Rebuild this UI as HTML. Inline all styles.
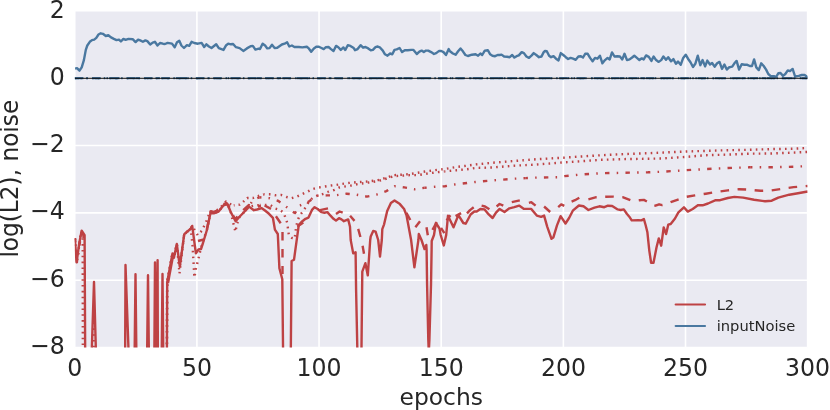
<!DOCTYPE html>
<html><head><meta charset="utf-8"><title>plot</title>
<style>
html,body{margin:0;padding:0;background:#fff;}
svg{display:block;}
text{font-family:"DejaVu Sans","Liberation Sans",sans-serif;fill:#262626;}
</style></head><body>
<svg width="830" height="410" viewBox="0 0 830 410">
<rect x="0" y="0" width="830" height="410" fill="#ffffff"/>
<rect x="74.75" y="10.8" width="732.90" height="336.80" fill="#eaeaf2"/>
<g stroke="#ffffff" stroke-width="1.6"><line x1="74.75" y1="10.8" x2="74.75" y2="347.6"/><line x1="196.90" y1="10.8" x2="196.90" y2="347.6"/><line x1="319.05" y1="10.8" x2="319.05" y2="347.6"/><line x1="441.20" y1="10.8" x2="441.20" y2="347.6"/><line x1="563.35" y1="10.8" x2="563.35" y2="347.6"/><line x1="685.50" y1="10.8" x2="685.50" y2="347.6"/><line x1="807.65" y1="10.8" x2="807.65" y2="347.6"/><line x1="74.75" y1="10.79" x2="807.65" y2="10.79"/><line x1="74.75" y1="78.15" x2="807.65" y2="78.15"/><line x1="74.75" y1="145.51" x2="807.65" y2="145.51"/><line x1="74.75" y1="212.87" x2="807.65" y2="212.87"/><line x1="74.75" y1="280.23" x2="807.65" y2="280.23"/><line x1="74.75" y1="347.59" x2="807.65" y2="347.59"/></g>
<defs><clipPath id="c"><rect x="74.75" y="10.8" width="732.90" height="336.80"/></clipPath></defs>
<g clip-path="url(#c)" fill="none" stroke-linejoin="round">
<g stroke="#be4244" stroke-width="2.4">
<path d="M74.8,238.2 L76.6,262.3 L79.3,243.0 L81.7,230.6 L84.6,235.2 L85.5,420.0 L89.5,420.0 L94.0,282.0 L97.8,420.0 L124.9,420.0 L125.5,265.0 L131.0,420.0 L133.9,420.0 L135.5,274.2 L137.1,420.0 L146.4,420.0 L148.0,275.3 L149.6,420.0 L153.9,420.0 L155.0,262.5 L156.3,420.0 L157.6,260.3 L158.0,420.0 L161.1,420.0 L162.5,273.9 L163.9,420.0 L166.6,420.0 L167.2,282.2 L172.5,253.4 L173.9,257.8 L176.8,243.9 L179.8,266.6 L184.2,234.4 L187.1,231.7 L190.7,228.8 L192.2,225.9 L195.9,253.4 L198.5,249.5 L201.0,249.0 L203.0,243.0 L206.9,230.0 L210.6,212.5 L213.7,213.3 L218.6,211.5 L223.4,205.4 L226.5,204.1 L228.3,206.0 L230.7,212.0 L235.6,221.2 L239.3,217.0 L244.1,212.0 L249.0,206.6 L253.9,210.2 L257.0,209.5 L261.8,208.2 L265.0,210.5 L269.0,213.8 L272.9,217.8 L274.9,229.6 L277.8,234.0 L279.4,268.3 L282.3,279.3 L283.8,420.0 L290.2,420.0 L291.6,261.0 L294.0,259.8 L296.8,239.4 L298.8,224.8 L300.0,223.7 L302.4,221.2 L305.5,218.8 L308.5,217.6 L312.2,209.6 L314.6,207.2 L317.7,209.0 L321.3,212.1 L324.4,212.7 L327.4,212.1 L330.5,215.7 L333.5,218.8 L336.0,220.6 L339.0,218.2 L341.5,219.4 L343.9,221.2 L348.2,219.4 L350.0,226.7 L350.7,240.0 L353.2,253.4 L355.6,252.2 L356.1,290.0 L357.3,347.0 L359.0,450.0 L361.5,347.0 L362.3,271.7 L365.4,263.2 L367.8,275.4 L370.2,240.0 L370.7,236.5 L373.2,231.0 L375.6,231.6 L378.2,240.0 L380.0,256.5 L381.8,240.0 L382.3,229.1 L384.1,224.3 L387.2,210.9 L390.9,202.9 L394.5,200.5 L399.9,204.1 L404.1,209.0 L406.6,215.7 L411.1,240.0 L414.4,267.4 L418.4,240.0 L418.8,234.0 L421.5,240.0 L424.5,249.1 L426.3,244.9 L426.6,250.0 L427.1,285.0 L428.3,340.0 L428.8,352.0 L429.4,340.0 L431.0,285.0 L431.6,250.0 L431.7,241.0 L434.0,235.0 L435.9,223.0 L439.5,228.5 L440.7,235.0 L443.8,245.4 L446.2,235.0 L448.0,215.7 L453.5,227.3 L458.4,215.1 L463.3,223.0 L465.7,223.7 L470.6,214.5 L474.3,211.5 L476.7,211.5 L480.4,209.0 L484.6,209.4 L488.7,214.4 L492.6,218.0 L496.0,212.6 L499.6,208.9 L504.5,212.0 L509.4,208.3 L514.3,207.1 L519.1,205.6 L524.0,208.9 L527.7,208.9 L531.3,208.9 L533.8,212.0 L536.8,215.6 L541.1,216.8 L544.1,215.6 L547.2,226.6 L551.5,238.8 L553.3,237.6 L557.0,225.4 L560.6,216.2 L565.5,223.5 L569.1,218.0 L572.8,210.7 L578.9,205.5 L583.5,206.3 L588.4,210.0 L594.5,207.6 L599.4,206.3 L604.3,207.2 L607.9,205.7 L612.2,206.0 L617.7,209.4 L620.7,210.0 L623.8,209.4 L626.8,213.7 L629.3,216.7 L631.7,220.4 L638.4,220.1 L641.5,220.4 L643.9,219.1 L645.6,225.0 L647.4,232.3 L649.3,250.6 L651.1,262.8 L653.5,262.8 L656.6,247.0 L658.8,238.4 L661.2,245.7 L663.7,227.4 L666.1,234.1 L668.3,224.6 L670.7,224.0 L675.0,218.5 L678.4,212.3 L683.9,207.3 L687.8,211.6 L692.7,209.0 L698.2,205.1 L702.6,205.3 L708.0,203.5 L715.7,200.2 L720.1,200.2 L727.8,198.0 L734.4,196.9 L743.2,197.6 L754.1,199.8 L765.1,201.3 L771.7,200.7 L778.3,197.6 L789.3,194.7 L798.0,193.2 L807.6,191.5"/>
<path d="M81.2,231.5 L83.4,235.5 L83.5,238.0"/><path d="M198.0,241.0 L203.9,239.5"/><path d="M264.6,205.5 L271.0,208.9"/><path d="M275.9,216.2 L280.7,223.2"/><path d="M282.5,232.0 L282.5,240.4"/><path d="M282.5,249.0 L282.5,257.4"/><path d="M282.5,266.0 L282.5,274.0"/><path d="M320.1,210.2 L328.0,208.4"/><path d="M336.0,213.9 L339.6,211.5 L342.7,212.7"/><path d="M350.1,215.7 L354.5,220.9"/><path d="M358.2,228.9 L360.4,237.0"/><path d="M362.6,245.7 L364.0,253.8"/><path d="M406.4,212.7 L410.3,220.0"/><path d="M415.4,227.2 L420.0,221.2"/><path d="M426.5,227.2 L427.8,235.3"/><path d="M432.5,229.8 L436.8,222.1"/><path d="M441.0,228.0 L444.4,233.2"/><path d="M446.6,220.4 L450.4,215.3"/><path d="M455.6,216.1 L461.1,213.1"/><path d="M467.0,213.4 L470.0,210.1 L473.7,207.2"/><path d="M481.6,205.7 L485.0,206.5 L489.4,209.3"/><path d="M496.6,206.5 L499.6,204.0 L503.3,205.6"/><path d="M511.8,202.2 L519.8,200.4"/><path d="M528.9,202.8 L531.3,202.2 L535.6,205.6"/><path d="M544.1,206.5 L550.2,212.0"/><path d="M558.2,207.1 L561.2,204.4 L564.3,205.9"/><path d="M571.6,201.6 L575.0,200.2 L579.3,197.8"/><path d="M297.4,226.8 L299.7,224.9 L303.3,222.4"/><path d="M168.0,283.0 L173.3,254.5"/>
<path d="M75.0,238.5 L77.2,261.0 L80.8,232.5 L82.2,235.5" stroke-dasharray="1.6 4.23"/>
<path d="M82.7,238.2 L82.9,420" stroke-dasharray="1.6 4.25"/>
<path d="M93.7,316.6 L93.7,420" stroke-dasharray="1.6 4.25"/>
<path d="M75.0,238.0 L77.0,262.0 L81.5,231.5 L83.0,236.0" stroke-dasharray="4.4 7.2 1.5 7.2"/>
<path d="M206.9,229.0 L210.6,211.3 L213.7,212.0 L218.6,210.2 L223.4,204.2 L226.5,203.0 L228.3,205.0 L230.7,211.0 L235.4,219.5 L239.0,214.0 L244.0,209.5 L249.0,205.0 L254.0,207.0 L258.0,206.5 L261.0,206.0" stroke-dasharray="8.6 8.55"/>
<path d="M588.4,199.4 L596.3,197.2 L605.5,196.8 L613.4,196.6 L622.6,197.2 L630.5,200.2 L635.0,201.0 L639.6,200.2 L643.9,199.9 L646.9,201.5 L651.0,204.5 L655.5,205.7 L659.1,204.3 L662.2,205.1 L666.0,204.0 L670.7,202.1 L677.3,199.8 L686.1,196.9 L694.9,195.4 L705.8,193.7 L716.8,191.9 L727.8,190.4 L738.8,189.3 L749.7,189.7 L760.7,190.8 L771.7,190.4 L771.7,190.4" stroke-dasharray="8.582 8.532" stroke-dashoffset="0.000"/><path d="M771.7,190.4 L782.7,188.8 L793.6,187.1 L807.6,186.0" stroke-dasharray="8.582 8.532" stroke-dashoffset="0.000"/>
<path d="M245.1,210.9 L249.0,206.6 L253.0,200.0 L259.3,197.3 L259.3,197.3" stroke-dasharray="4.416 7.227 1.506 7.227" stroke-dashoffset="2.208"/><path d="M259.3,197.3 L269.4,198.2 L278.4,201.0 L286.2,206.7 L293.3,212.1 L295.0,213.0 L299.6,205.7 L308.8,201.6 L317.4,195.7 L326.7,195.4 L336.6,195.2 L346.3,193.7 L356.1,194.6 L366.8,196.6 L376.6,194.6 L386.3,191.1 L394.7,186.2 L404.3,187.4 L414.6,189.2 L424.5,187.8" stroke-dasharray="4.314 7.059 1.471 7.059" stroke-dashoffset="2.157"/><path d="M424.5,187.8 L424.8,187.8 L435.1,186.8 L444.9,186.2 L454.6,184.5 L464.8,183.3 L475.1,182.0 L492.0,180.5 L513.9,178.7 L525.7,178.1" stroke-dasharray="4.410 7.216 1.503 7.216" stroke-dashoffset="2.205"/><path d="M525.7,178.1 L535.8,177.6 L557.8,177.2 L564.4,176.1 L579.7,174.6 L601.7,173.2 L623.6,172.8 L648.0,172.3 L662.0,171.7 L686.1,170.2 L705.8,169.1 L727.8,168.0 L749.7,167.3 L750.2,167.3" stroke-dasharray="4.431 7.250 1.510 7.250" stroke-dashoffset="2.215"/><path d="M750.2,167.3 L771.7,167.3 L793.6,166.7 L807.6,166.1" stroke-dasharray="4.431 7.250 1.510 7.250" stroke-dashoffset="2.215"/>
<path d="M166.6,420.0 L167.2,282.2 L172.5,253.4 L173.9,257.8 L176.8,243.9 L179.8,266.6 L184.2,234.4 L187.1,231.7 L190.7,228.8 L192.2,225.9 L197.8,235.2 L202.1,230.4 L206.3,221.2 L210.0,212.0 L218.6,209.5 L225.9,201.5 L229.0,203.5 L233.2,205.4" stroke-dasharray="1.6 4.23"/>
<path d="M233.8,205.3 L239.8,204.6 L242.7,202.4 L247.1,198.0 L253.0,198.0 L258.0,196.1 L263.8,194.3 L263.8,194.3" stroke-dasharray="1.520 4.018" stroke-dashoffset="0.760"/><path d="M263.8,194.3 L269.6,194.3 L275.1,195.2 L281.0,194.9 L286.5,197.0 L291.6,198.2 L297.1,196.5 L302.3,194.0 L307.7,191.6 L312.6,189.0 L318.2,187.6 L323.7,186.7 L329.4,185.7 L335.1,185.1 L341.0,184.1 L349.3,182.9 L359.0,182.0 L368.8,181.4 L378.5,180.0 L388.3,177.1 L394.1,175.1 L402.0,174.7 L409.8,174.1 L417.6,172.8 L427.3,171.2 L437.1,169.9 L441.9,169.3" stroke-dasharray="1.616 4.273" stroke-dashoffset="0.808"/><path d="M441.9,169.3 L446.8,168.7 L456.6,166.9 L466.3,165.8 L476.1,164.4 L492.0,162.8 L513.9,161.0 L523.2,160.3" stroke-dasharray="1.603 4.239" stroke-dashoffset="0.802"/><path d="M523.2,160.3 L535.8,159.3 L563.3,157.7 L579.7,156.6 L601.7,155.2 L623.6,154.1 L645.6,153.3 L662.0,152.6 L686.1,151.5 L705.8,150.9 L727.8,150.2 L744.9,149.9" stroke-dasharray="1.603 4.238" stroke-dashoffset="0.802"/><path d="M744.9,149.9 L749.7,149.8 L771.7,149.1 L793.6,148.7 L807.6,148.0" stroke-dasharray="1.603 4.238" stroke-dashoffset="0.802"/>
<path d="M166.6,420.0 L167.2,282.2 L172.5,253.4 L173.9,257.8 L176.8,243.9 L179.5,273.5 L184.2,234.4 L187.1,231.7 L190.7,228.8 L191.0,231.0 L192.5,245.0 L193.5,262.0 L194.4,277.6 L196.0,268.0 L198.0,260.7 L200.5,250.0 L204.0,238.0 L206.9,230.0 L210.6,212.5 L213.7,213.3 L218.6,211.5 L223.4,205.4 L226.5,204.1 L228.3,206.0 L230.7,212.0 L234.0,225.9 L235.4,231.7 L237.0,224.0 L239.5,217.0 L244.1,212.0 L249.0,206.6 L255.0,205.5 L259.8,205.0" stroke-dasharray="1.6 4.23"/>
<path d="M259.7,205.0 L259.8,205.0 L270.5,205.0 L274.9,208.4 L279.8,209.9 L283.7,212.8 L285.6,218.2 L287.6,224.0 L288.0,229.8 L289.0,235.5 L292.0,238.0 L294.4,239.0 L295.4,233.5 L296.0,227.7 L297.3,221.8 L299.3,216.2 L302.6,211.7 L305.8,207.0 L308.8,201.6 L312.8,197.7 L317.4,195.7 L323.9,193.7 L328.2,191.9" stroke-dasharray="1.636 4.325" stroke-dashoffset="0.818"/><path d="M328.2,191.9 L328.8,191.7 L334.6,189.8 L339.5,187.4 L345.4,186.4 L351.2,185.5 L359.0,183.9 L368.8,182.5 L378.5,181.0 L388.3,178.0 L394.1,176.1 L402.0,175.7 L409.8,175.1 L417.6,175.1 L427.3,173.6 L437.1,172.2 L444.6,171.4" stroke-dasharray="1.631 4.313" stroke-dashoffset="0.816"/><path d="M444.6,171.4 L446.8,171.2 L456.6,170.2 L466.3,169.3 L476.1,167.9 L492.0,167.5 L513.9,165.7 L526.0,165.1" stroke-dasharray="1.603 4.237" stroke-dashoffset="0.801"/><path d="M526.0,165.1 L535.8,164.6 L563.3,162.4 L579.7,161.3 L601.7,159.8 L623.6,159.1 L645.0,158.8 L662.0,158.5 L686.1,156.9 L705.8,155.2 L727.8,154.6 L742.0,154.0" stroke-dasharray="1.604 4.241" stroke-dashoffset="0.802"/><path d="M742.0,154.0 L749.7,153.7 L771.7,153.5 L793.6,152.6 L807.6,151.9" stroke-dasharray="1.604 4.241" stroke-dashoffset="0.802"/>
</g>
<g stroke="#4a78a0" stroke-width="2.4">
<path d="M75.1,68.6 L77.0,68.2 L79.5,70.7 L81.7,67.4 L83.9,60.1 L85.8,49.9 L87.3,45.5 L89.8,41.8 L92.0,40.1 L94.2,39.6 L96.3,37.9 L98.5,34.5 L100.7,33.3 L102.9,33.8 L105.8,36.0 L108.3,35.2 L111.0,37.4 L113.9,38.9 L116.5,40.1 L119.0,39.6 L120.9,41.5 L123.4,38.9 L125.6,39.9 L128.5,38.9 L132.9,39.3 L135.6,42.1 L138.1,39.6 L140.2,40.4 L142.9,41.8 L145.4,40.4 L147.3,41.1 L150.2,44.5 L152.7,42.6 L154.9,41.8 L157.5,45.5 L160.0,43.0 L162.9,43.7 L165.0,44.0 L167.6,42.9 L172.0,43.6 L174.7,47.2 L177.0,42.3 L179.3,40.8 L181.4,45.5 L184.0,48.0 L186.9,45.2 L189.2,45.9 L191.6,41.8 L194.3,43.0 L197.9,43.7 L201.6,42.9 L204.2,47.0 L206.4,44.3 L208.9,46.5 L211.5,48.0 L216.2,44.3 L218.8,48.1 L223.5,49.9 L226.2,45.2 L228.2,43.7 L230.8,44.3 L233.1,44.0 L236.0,47.2 L239.6,48.1 L243.3,50.9 L246.9,48.4 L250.6,46.2 L252.8,45.9 L255.4,49.6 L258.7,48.7 L260.0,49.1 L262.6,43.7 L265.1,45.5 L267.3,48.4 L269.5,48.1 L272.0,44.8 L274.6,48.0 L277.3,47.7 L281.9,44.5 L284.6,43.7 L287.1,42.3 L289.3,46.5 L291.9,45.5 L294.4,47.0 L298.8,47.0 L302.4,47.4 L306.8,46.7 L309.0,48.7 L311.2,51.8 L313.9,48.4 L316.3,46.7 L318.5,46.7 L321.5,48.0 L323.7,49.1 L325.9,47.2 L328.5,47.0 L331.0,49.1 L333.5,51.0 L336.1,45.9 L338.3,47.2 L340.8,49.9 L343.4,47.4 L345.3,49.9 L347.8,45.2 L350.4,45.9 L353.7,48.1 L355.0,50.2 L357.6,49.1 L360.6,45.2 L363.1,47.7 L365.5,47.0 L368.2,48.4 L370.8,50.2 L372.9,49.9 L375.5,47.2 L377.7,46.5 L380.2,47.7 L382.8,50.6 L385.0,54.3 L387.5,55.7 L390.1,53.5 L392.3,54.3 L394.5,49.9 L396.7,49.4 L399.6,48.0 L402.1,52.1 L404.8,50.2 L407.7,50.3 L411.3,49.9 L413.5,49.9 L416.8,54.0 L419.4,51.6 L421.6,50.6 L423.8,52.1 L426.0,50.6 L428.2,50.6 L431.1,52.1 L434.0,54.0 L436.2,53.1 L439.1,50.9 L441.3,51.0 L443.5,52.1 L446.0,55.0 L448.7,49.1 L450.0,51.3 L452.9,53.5 L455.6,54.7 L458.1,51.3 L460.5,48.4 L462.9,51.3 L465.4,55.0 L467.9,56.0 L471.9,54.7 L475.6,54.3 L478.1,55.7 L480.4,53.5 L482.2,55.0 L484.8,50.6 L487.8,50.2 L490.2,54.3 L492.4,55.7 L495.1,56.2 L497.6,55.0 L499.8,55.0 L501.5,54.6 L504.1,56.5 L507.1,56.8 L509.7,57.2 L512.2,55.0 L514.4,57.6 L516.6,56.2 L518.8,55.4 L521.7,52.1 L523.9,53.1 L526.4,56.5 L529.0,57.9 L531.7,55.4 L533.7,53.1 L536.3,55.0 L539.0,57.2 L541.5,56.5 L543.7,52.1 L545.0,51.0 L546.8,51.3 L549.1,55.7 L551.1,57.2 L553.5,56.2 L556.0,58.7 L558.5,60.4 L560.8,53.1 L563.3,55.0 L565.8,57.2 L568.1,59.0 L570.6,57.9 L573.1,58.7 L575.7,59.8 L578.4,56.5 L580.9,56.2 L583.0,57.5 L585.2,53.8 L587.7,53.8 L590.1,57.9 L592.6,61.3 L595.0,57.9 L597.4,58.7 L599.9,55.7 L602.4,63.3 L605.0,60.1 L607.6,57.9 L609.7,59.4 L612.0,52.4 L614.5,56.5 L617.4,56.2 L619.9,56.5 L622.3,59.4 L624.5,53.8 L627.0,60.1 L629.6,59.4 L632.1,57.5 L634.3,55.7 L636.9,57.9 L639.4,60.1 L640.0,59.4 L641.8,58.4 L643.7,59.4 L646.1,55.4 L648.8,56.9 L651.4,60.9 L653.6,56.5 L656.1,60.1 L658.7,61.9 L661.2,60.1 L663.4,56.5 L666.0,59.8 L668.2,57.2 L671.0,61.3 L673.4,59.1 L675.9,63.8 L678.0,61.6 L680.7,64.8 L683.2,57.9 L685.7,54.7 L688.0,58.7 L690.5,62.3 L693.0,67.0 L695.3,63.8 L697.8,55.7 L700.3,65.2 L702.6,60.1 L705.1,66.4 L707.3,60.6 L710.0,64.5 L712.1,63.0 L714.6,66.7 L717.1,63.3 L719.5,61.9 L722.0,68.9 L724.4,64.5 L726.8,69.6 L729.3,67.2 L730.0,67.2 L732.2,66.7 L734.4,63.3 L736.6,60.9 L739.1,69.6 L741.7,64.2 L744.6,64.8 L747.3,64.8 L749.8,66.0 L752.0,66.0 L754.1,59.4 L756.3,67.4 L758.8,70.1 L761.2,63.3 L763.7,66.0 L766.1,69.6 L768.3,74.0 L770.7,76.2 L773.9,76.2 L776.1,77.0 L778.3,73.3 L780.5,73.0 L783.0,75.9 L785.3,74.0 L787.8,70.4 L790.0,71.1 L792.6,68.9 L795.1,76.5 L798.8,75.9 L801.7,75.0 L804.6,75.0 L806.4,76.2 L807.1,77.7"/>
<path d="M74.75,78.15 L807.65,78.15" stroke-dasharray="8.65 8.65"/>
<path d="M74.75,78.15 L807.65,78.15" stroke-dasharray="4.35 7.2 1.45 7.2"/>
<path d="M74.75,78.15 L807.65,78.15" stroke-dasharray="1.5 4.3"/>
</g>
<path d="M74.75,78.15 L807.65,78.15" stroke="#000" stroke-width="1.05"/>
</g>
<g fill="none" stroke-width="2.2" stroke-linecap="round">
<line x1="675.7" y1="304.5" x2="705" y2="304.5" stroke="#be4244"/>
<line x1="675.7" y1="326" x2="705" y2="326" stroke="#4a78a0"/>
</g>
<g font-size="14.7">
<text x="716.7" y="309.6">L2</text>
<text x="716.7" y="331.1">inputNoise</text>
</g>
<g font-size="23.6">
<text transform="translate(74.8,376.0) scale(1,1.045)" text-anchor="middle">0</text><text transform="translate(196.9,376.0) scale(1,1.045)" text-anchor="middle">50</text><text transform="translate(319.1,376.0) scale(1,1.045)" text-anchor="middle">100</text><text transform="translate(441.2,376.0) scale(1,1.045)" text-anchor="middle">150</text><text transform="translate(563.4,376.0) scale(1,1.045)" text-anchor="middle">200</text><text transform="translate(685.5,376.0) scale(1,1.045)" text-anchor="middle">250</text><text transform="translate(807.6,376.0) scale(1,1.045)" text-anchor="middle">300</text>
<text transform="translate(64.8,17.9) scale(1,1.045)" text-anchor="end">2</text><text transform="translate(64.8,85.0) scale(1,1.045)" text-anchor="end">0</text><text transform="translate(64.8,152.2) scale(1,1.045)" text-anchor="end">−2</text><text transform="translate(64.8,218.9) scale(1,1.045)" text-anchor="end">−4</text><text transform="translate(64.8,286.5) scale(1,1.045)" text-anchor="end">−6</text><text transform="translate(64.8,353.5) scale(1,1.045)" text-anchor="end">−8</text>
<text x="441.2" y="404.5" text-anchor="middle" font-size="23.4">epochs</text>
<text transform="translate(18.2,178.7) rotate(-90) scale(1,1.04)" text-anchor="middle" font-size="23.25">log(L2), noise</text>
</g>
</svg>
</body></html>
